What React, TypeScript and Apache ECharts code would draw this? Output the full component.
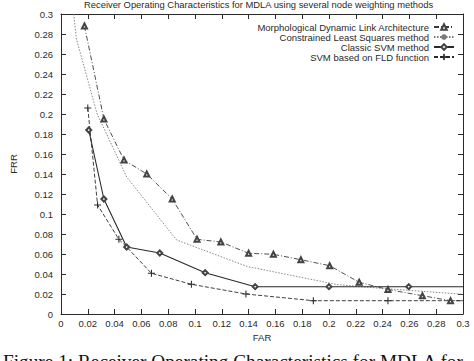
import React, { useEffect, useRef } from "react";
import * as echarts from "echarts";

const seriesNames = [
  "Morphological Dynamic Link Architecture",
  "Constrained Least Squares method",
  "Classic SVM method",
  "SVM based on FLD function",
];

const mdlaFar = [0.0175, 0.032, 0.047, 0.064, 0.083, 0.1015, 0.1193, 0.14, 0.1585, 0.179, 0.2005, 0.2225, 0.244, 0.2697, 0.2907, 0.3];
const mdlaFrr = [0.288, 0.195, 0.154, 0.14, 0.115, 0.0747, 0.072, 0.0607, 0.0597, 0.0543, 0.0483, 0.0317, 0.0245, 0.0183, 0.0133, 0.0133];

const clsFar = [0.0095, 0.0115, 0.027, 0.049, 0.0863, 0.139, 0.2057, 0.236, 0.3];
const clsFrr = [0.3, 0.275, 0.2, 0.137, 0.074, 0.0475, 0.0295, 0.026, 0.0197];

const svmFar = [0.0207, 0.032, 0.049, 0.0737, 0.1076, 0.1449, 0.2, 0.2595, 0.3];
const svmFrr = [0.184, 0.115, 0.067, 0.061, 0.0413, 0.0273, 0.0273, 0.0273, 0.0273];

const fldFar = [0.02, 0.0273, 0.0432, 0.049, 0.0675, 0.0973, 0.138, 0.1883, 0.244, 0.3];
const fldFrr = [0.206, 0.109, 0.0747, 0.067, 0.0407, 0.0297, 0.02, 0.0133, 0.0133, 0.0133];

const FONT = "'Liberation Sans', Arial, sans-serif";
const INK = "#2a2a2a";
const PLUS = "path://M4.25,0H5.75V4.25H10V5.75H5.75V10H4.25V5.75H0V4.25H4.25Z";

function pts(xs: number[], ys: number[], hidden: number[] = []) {
  return xs.map((x, i) =>
    hidden.includes(i) ? { value: [x, ys[i]], symbol: "none" } : { value: [x, ys[i]] }
  );
}

const fmt = (v: number) => String(+v.toFixed(2));

export default function App() {
  const ref = useRef<HTMLDivElement>(null);
  useEffect(() => {
    if (!ref.current) return;
    const chart = echarts.init(ref.current, null, { renderer: "svg" });
    const axisCommon = {
      type: "value" as const,
      min: 0,
      max: 0.3,
      interval: 0.02,
      splitLine: { show: false },
      axisLine: { show: true, onZero: false, lineStyle: { color: INK, width: 1 } },
      axisTick: { show: true, inside: true, length: 5, lineStyle: { color: INK } },
    };
    chart.setOption({
      animation: false,
      backgroundColor: "#fff",
      textStyle: { fontFamily: FONT },
      title: {
        text: "Receiver Operating Characteristics for MDLA using several node weighting methods",
        left: 84,
        top: 0,
        padding: 0,
        textStyle: { fontSize: 9.4, fontWeight: "normal", color: INK, fontFamily: FONT },
      },
      grid: { left: 52, right: 11, top: 14, bottom: 47 },
      legend: {
        orient: "vertical",
        right: 19,
        top: 22,
        padding: 0,
        align: "right",
        itemWidth: 20,
        itemHeight: 7,
        itemGap: 0,
        textStyle: { fontSize: 9.5, lineHeight: 9.5, color: INK, fontFamily: FONT },
        data: [
          seriesNames[0],
          seriesNames[1],
          seriesNames[2],
          {
            name: seriesNames[3],
            itemStyle: { color: INK, borderColor: INK, borderWidth: 0.8 },
          },
        ],
      },
      xAxis: [
        {
          ...axisCommon,
          position: "bottom",
          name: "FAR",
          nameLocation: "middle",
          nameGap: 13,
          nameTextStyle: { fontSize: 9.5, color: INK, verticalAlign: "top" },
          axisLabel: { fontSize: 9.5, color: INK, margin: 4, formatter: fmt },
        },
        { ...axisCommon, position: "top", axisLabel: { show: false } },
      ],
      yAxis: [
        {
          ...axisCommon,
          position: "left",
          name: "FRR",
          nameLocation: "middle",
          nameGap: 43,
          nameRotate: 90,
          nameTextStyle: { fontSize: 9.5, color: INK },
          axisLabel: { fontSize: 9.5, color: INK, margin: 8, formatter: fmt },
        },
        { ...axisCommon, position: "right", axisLabel: { show: false } },
      ],
      series: [
        {
          name: seriesNames[0],
          type: "line",
          data: pts(mdlaFar, mdlaFrr, [mdlaFar.length - 1]),
          symbol: "emptyTriangle",
          symbolSize: 5,
          lineStyle: { color: "#3a3a3a", width: 0.9, type: [5, 2, 1, 2] },
          itemStyle: { color: "#444", borderWidth: 0.7 },
        },
        {
          name: seriesNames[1],
          type: "line",
          data: pts(clsFar, clsFrr),
          showSymbol: false,
          symbol: "none",
          lineStyle: { color: "#7a7a7a", width: 0.9, type: [1.5, 1.5] },
          itemStyle: { color: "#7a7a7a" },
        },
        {
          name: seriesNames[2],
          type: "line",
          data: pts(svmFar, svmFrr, [svmFar.length - 1]),
          symbol: "emptyDiamond",
          symbolSize: 5,
          lineStyle: { color: "#2a2a2a", width: 1.1, type: "solid" },
          itemStyle: { color: "#444", borderWidth: 0.7 },
        },
        {
          name: seriesNames[3],
          type: "line",
          data: pts(fldFar, fldFrr, [3, fldFar.length - 1]),
          symbol: PLUS,
          symbolSize: 7,
          lineStyle: { color: "#2a2a2a", width: 0.9, type: [4, 2] },
          itemStyle: { color: "#2a2a2a" },
        },
      ],
      graphic: [
        {
          type: "text",
          left: 3,
          top: 351.5,
          style: {
            text: "Figure 1: Receiver Operating Characteristics for MDLA for",
            font: "19.3px 'Liberation Serif', 'Times New Roman', serif",
            fill: "#111",
          },
        },
      ],
    });
    return () => chart.dispose();
  }, []);
  return (
    <div
      ref={ref}
      style={{ position: "absolute", left: 0, top: 0, width: 474, height: 361, background: "#fff" }}
    />
  );
}
